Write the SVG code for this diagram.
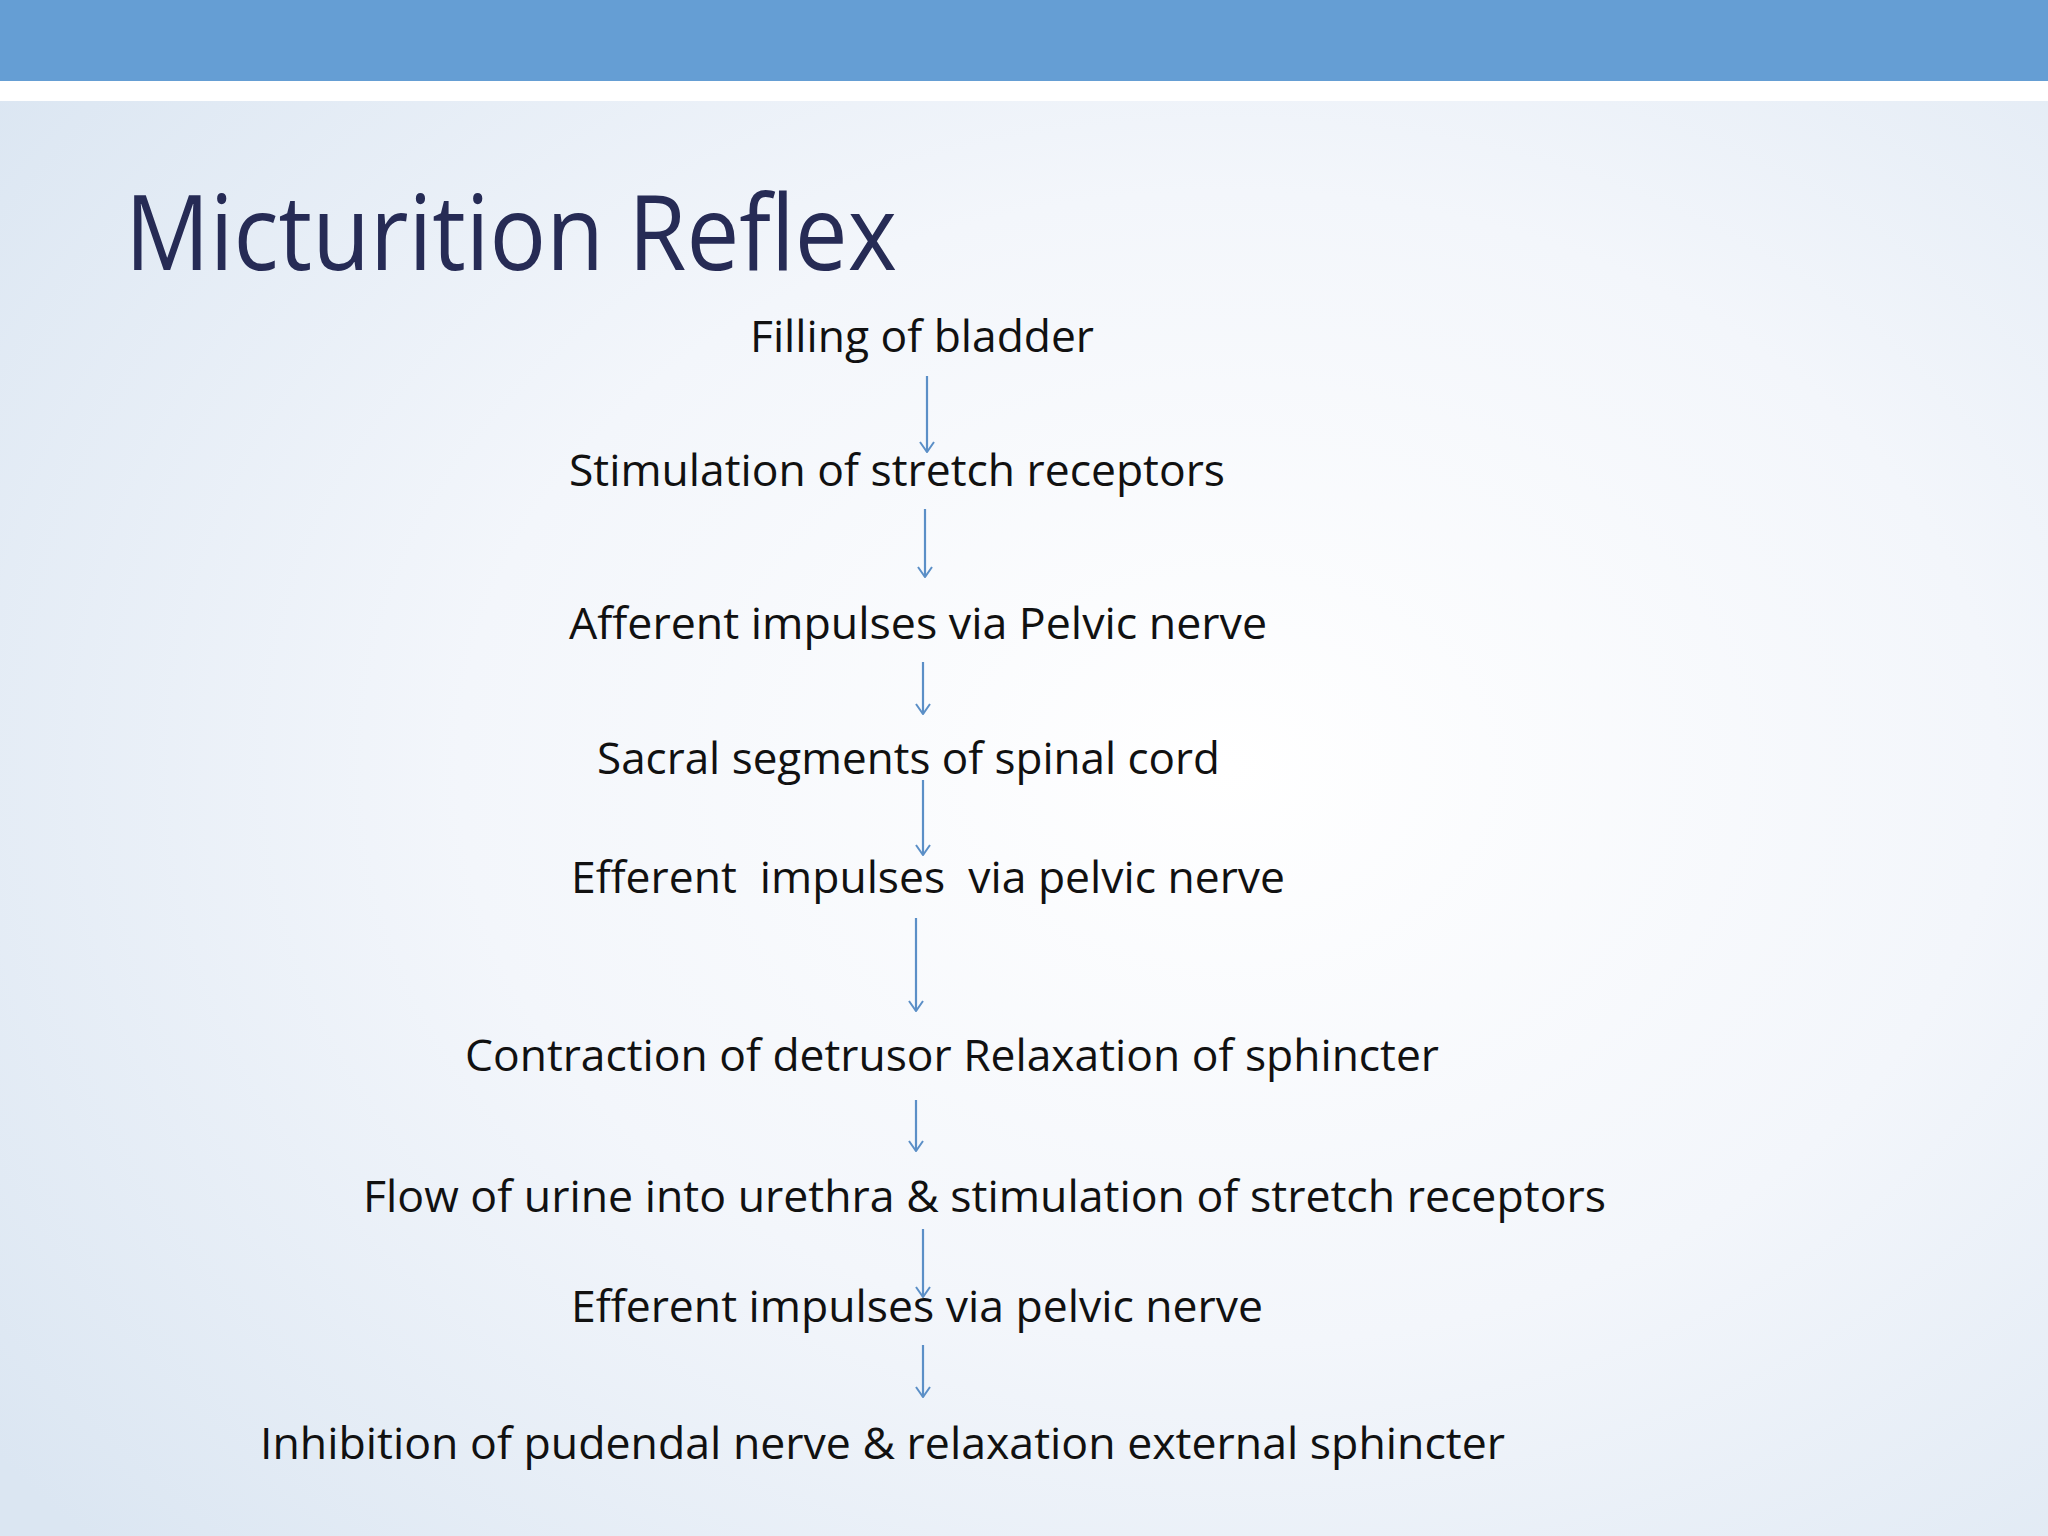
<svg xmlns="http://www.w3.org/2000/svg" width="2048" height="1536" viewBox="0 0 2048 1536">
<defs>
<radialGradient id="bg" cx="0.6" cy="0.5" r="0.75">
<stop offset="0" stop-color="#ffffff"/><stop offset="0.5" stop-color="#f3f6fb"/><stop offset="1" stop-color="#dbe6f2"/>
</radialGradient>
<marker id="ah" viewBox="0 0 12 16" refX="11" refY="8" markerWidth="12" markerHeight="16" markerUnits="userSpaceOnUse" orient="auto">
<path d="M1,1 L11,8 L1,15" fill="none" stroke="#5b8fc7" stroke-width="2"/>
</marker>
<style>
.t{font-family:"Open Sans","Liberation Sans",sans-serif;font-size:43px;fill:#111}
.c line{stroke:#5b8fc7;stroke-width:2.2;marker-end:url(#ah)}
</style>
</defs>
<rect width="2048" height="1536" fill="url(#bg)"/>
<rect width="2048" height="81" fill="#659ed4"/>
<rect y="81" width="2048" height="20" fill="#ffffff"/>
<text x="125" y="270" font-family="Open Sans,Liberation Sans,sans-serif" font-size="104" fill="#262b55" textLength="772" lengthAdjust="spacingAndGlyphs">Micturition Reflex</text>
<g id="n1"><text class="t" x="750" y="352" textLength="344" lengthAdjust="spacingAndGlyphs">Filling of bladder</text></g>
<g id="n2"><text class="t" x="569" y="486" textLength="656" lengthAdjust="spacingAndGlyphs">Stimulation of stretch receptors</text></g>
<g id="n3"><text class="t" x="569" y="639" textLength="698" lengthAdjust="spacingAndGlyphs">Afferent impulses via Pelvic nerve</text></g>
<g id="n4"><text class="t" x="597" y="774" textLength="623" lengthAdjust="spacingAndGlyphs">Sacral segments of spinal cord</text></g>
<g id="n5"><text class="t" x="571" y="893" textLength="714" lengthAdjust="spacingAndGlyphs" xml:space="preserve">Efferent  impulses  via pelvic nerve</text></g>
<g id="n6"><text class="t" x="465" y="1071" textLength="974" lengthAdjust="spacingAndGlyphs">Contraction of detrusor Relaxation of sphincter</text></g>
<g id="n7"><text class="t" x="363" y="1212" textLength="1243" lengthAdjust="spacingAndGlyphs">Flow of urine into urethra &amp; stimulation of stretch receptors</text></g>
<g id="n8"><text class="t" x="571" y="1322" textLength="692" lengthAdjust="spacingAndGlyphs">Efferent impulses via pelvic nerve</text></g>
<g id="n9"><text class="t" x="260" y="1459" textLength="1245" lengthAdjust="spacingAndGlyphs">Inhibition of pudendal nerve &amp; relaxation external sphincter</text></g>
<g id="connectors" class="c">
<line x1="927" y1="376" x2="927" y2="452"/>
<line x1="925" y1="509" x2="925" y2="577"/>
<line x1="923" y1="662" x2="923" y2="714"/>
<line x1="923" y1="780" x2="923" y2="855"/>
<line x1="916" y1="918" x2="916" y2="1011"/>
<line x1="916" y1="1100" x2="916" y2="1151"/>
<line x1="923" y1="1229" x2="923" y2="1297"/>
<line x1="923" y1="1345" x2="923" y2="1397"/>
</g>
</svg>
